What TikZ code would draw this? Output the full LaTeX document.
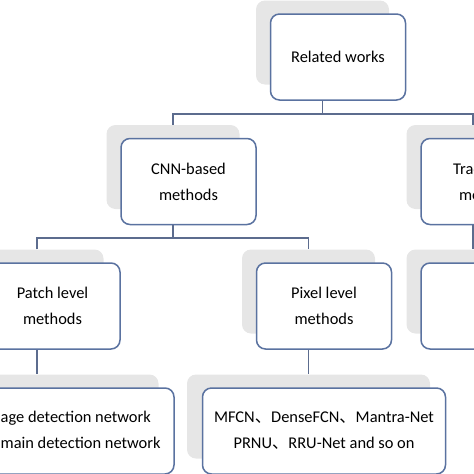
\documentclass[tikz,border=0pt]{standalone}
\usepackage{fontspec}
\setmainfont{Carlito}
\newfontfamily\cjk{Noto Sans CJK SC}
\usetikzlibrary{positioning}
\definecolor{boxline}{RGB}{90,114,160}
\definecolor{shade}{RGB}{230,230,230}
\definecolor{linkline}{RGB}{92,108,142}
\newcommand{\dun}{{\cjk 、}}

\begin{document}
\begin{tikzpicture}[x=1pt, y=-1pt,
  back/.style={rectangle, rounded corners=9pt, fill=shade, minimum width=133pt, minimum height=84pt, inner sep=0pt},
  box/.style={rectangle, rounded corners=9pt, draw=boxline, line width=1.5pt, fill=white, minimum width=135pt, minimum height=86pt, align=center, font=\fontsize{16.4}{26}\selectfont},
  wide/.style={minimum width=243pt},
  words/.style={align=left, inner sep=0pt, font=\fontsize{16.4}{26}\selectfont},
  link/.style={draw=linkline, line width=1.7pt}]
  \useasboundingbox (0,0) rectangle (474,474);
  \clip (0,0) rectangle (474,474);

  % grey backing shapes
  \node[back] (relS) at (322.5,42.5) {};
  \node[back] (cnnS) at (173,167) {};
  \node[back] (tradS) at (473,167) {};
  \node[back] (patchS) at (37,291.5) {};
  \node[back] (pixS) at (308.5,291.5) {};
  \node[back] (tradkS) at (473,291.5) {};
  \node[back, wide] (imgS) at (37,416.5) {};
  \node[back, wide] (mfcnS) at (308.5,416.5) {};

  % boxes
  \node[box] (rel) at ([shift={(15.5,14.5)}]relS.center) {Related works};
  \node[box] (cnn) at ([shift={(15.5,14.5)}]cnnS.center) {CNN-based\\methods};
  \node[box] (trad) at ([shift={(15.5,14.5)}]tradS.center) {Traditional\\methods};
  \node[box] (patch) at ([shift={(15.5,14.5)}]patchS.center) {Patch level\\methods};
  \node[box] (pix) at ([shift={(15.5,14.5)}]pixS.center) {Pixel level\\methods};
  \node[box] (tradk) at ([shift={(15.5,14.5)}]tradkS.center) {};
  \node[box, wide] (img) at ([shift={(15.5,14.5)}]imgS.center) {};
  \node[box, wide] (mfcn) at ([shift={(15.5,14.5)}]mfcnS.center) {MFCN\dun DenseFCN\dun Mantra-Net\\PRNU\dun RRU-Net and so on};
  \node[words, anchor=west] (imgT) at (0.5,430) {age detection network\\main detection network};

  % connectors
  \draw[link] (relS |- rel.south) -- ++(0,13) coordinate (j1);
  \draw[link] (cnnS.north) |- (j1) -| (tradS.north);
  \draw[link] (cnnS |- cnn.south) -- ++(0,12.5) coordinate (j2);
  \draw[link] (patchS.north) |- (j2) -| (pixS.north);
  \draw[link] (tradS |- trad.south) -- (tradkS.north);
  \draw[link] (patchS |- patch.south) -- (imgS.north);
  \draw[link] (pixS |- pix.south) -- (mfcnS.north);
\end{tikzpicture}
\end{document}
